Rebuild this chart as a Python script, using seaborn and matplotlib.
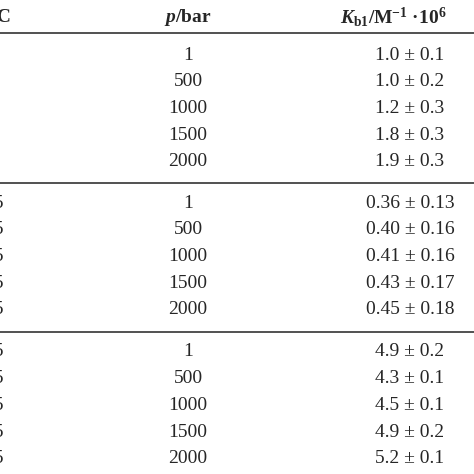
import matplotlib.pyplot as plt
import seaborn as sns

pressure = [1, 500, 1000, 1500, 2000]
temperature_cut = ["", "25", "25"]
kb1_values = [
    ["1.0 ± 0.1", "1.0 ± 0.2", "1.2 ± 0.3", "1.8 ± 0.3", "1.9 ± 0.3"],
    ["0.36 ± 0.13", "0.40 ± 0.16", "0.41 ± 0.16", "0.43 ± 0.17", "0.45 ± 0.18"],
    ["4.9 ± 0.2", "4.3 ± 0.1", "4.5 ± 0.1", "4.9 ± 0.2", "5.2 ± 0.1"],
]

sns.set_theme(style="white")
plt.rcParams["font.family"] = ["Liberation Serif", "DejaVu Serif"]
plt.rcParams["mathtext.fontset"] = "custom"
plt.rcParams["mathtext.it"] = "Liberation Serif:italic:bold"
plt.rcParams["mathtext.rm"] = "Liberation Serif:bold"
plt.rcParams["mathtext.bf"] = "Liberation Serif:bold"

fig = plt.figure(figsize=(4.74, 4.74), dpi=100)
ax = fig.add_axes([0, 0, 1, 1])
ax.set_xlim(0, 474)
ax.set_ylim(474, 0)
ax.axis("off")

fs = 14
ax.text(188, 17, r"$p$/bar", ha="center", va="center", fontsize=fs, fontweight="bold")
ax.text(340, 17, r"$K_{\mathrm{b1}}$/M$^{\mathrm{-1}}$ ·10$^{\mathrm{6}}$",
        ha="left", va="center", fontsize=fs, fontweight="bold")
ax.text(-11, 17, "°C", ha="left", va="center", fontsize=fs, fontweight="bold")

for y in [33, 183, 332]:
    ax.axhline(y, color="#333333", lw=1.2)

group_top = [55, 203, 352]
for g, top in enumerate(group_top):
    for i, p in enumerate(pressure):
        y = top + i * 26.7
        ax.text(188, y, str(p), ha="center", va="center", fontsize=fs)
        ax.text(410, y, kb1_values[g][i], ha="center", va="center", fontsize=fs)
        if temperature_cut[g]:
            ax.text(4, y, temperature_cut[g], ha="right", va="center", fontsize=fs)

fig.savefig("out.png", dpi=100)
